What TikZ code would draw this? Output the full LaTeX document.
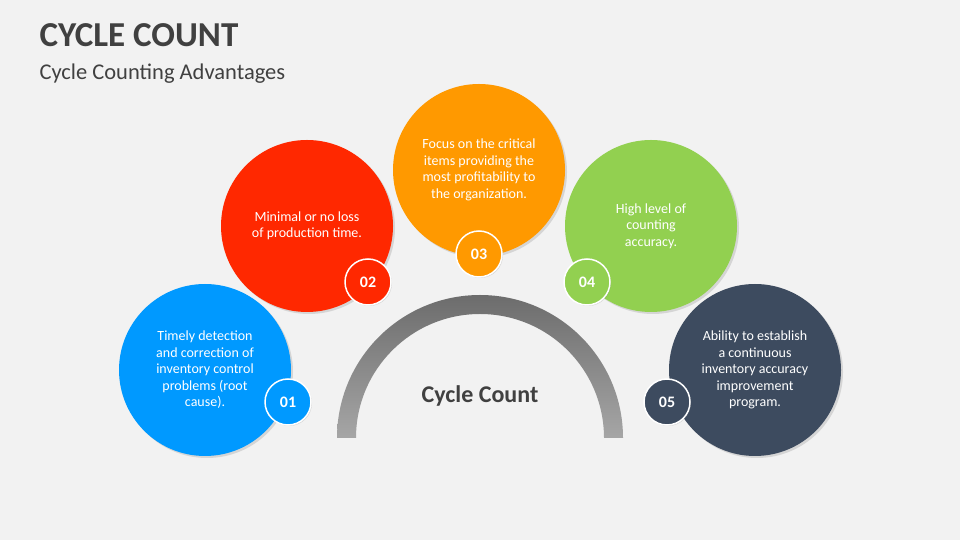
\documentclass[tikz,border=0pt]{standalone}
\usepackage{fontspec}
\setmainfont{Carlito}
\usetikzlibrary{shadows}
\definecolor{bg}{RGB}{242,242,242}
\definecolor{cblue}{RGB}{0,153,255}
\definecolor{cred}{RGB}{255,40,0}
\definecolor{corange}{RGB}{255,153,0}
\definecolor{cgreen}{RGB}{146,208,80}
\definecolor{cdark}{RGB}{61,75,95}
\definecolor{tgray}{RGB}{64,64,64}
\tikzset{
  bubble/.style={circle,minimum size=172pt,inner sep=0pt,fill=#1,text=white,align=center,font=\fontsize{14}{16.5}\selectfont,drop shadow={opacity=0.25,shadow xshift=2pt,shadow yshift=-2pt}},
  badge/.style={circle,minimum size=46pt,inner sep=0pt,fill=#1,draw=white,line width=1.5pt,text=white,font=\bfseries\fontsize{16}{18}\selectfont,drop shadow={opacity=0.25,shadow xshift=1pt,shadow yshift=-1pt}}
}
\begin{document}
\begin{tikzpicture}[x=1pt,y=1pt]
\fill[bg] (0,0) rectangle (960,540);
\useasboundingbox (0,0) rectangle (960,540);
\node[anchor=west,text=tgray,font=\bfseries\fontsize{35}{38}\selectfont] (title) at (36,505) {CYCLE COUNT};
\node[anchor=west,text=tgray,font=\fontsize{22.5}{26}\selectfont] (sub) at (36,466) {Cycle Counting Advantages};
% arch
\shade[top color=gray!85!black,bottom color=gray!70,draw=none]
  (337,102) arc[start angle=180,end angle=0,radius=143] -- (604,102)
  arc[start angle=0,end angle=180,radius=124] -- cycle;
\node[text=tgray,font=\bfseries\fontsize{24}{27}\selectfont] (cc) at (480,144) {Cycle Count};
% bubbles
\node[bubble=cblue] (b1) at (205,170) {Timely detection\\and correction of\\inventory control\\problems (root\\cause).};
\node[bubble=cred] (b2) at (307,314) {Minimal or no loss\\of production time.};
\node[bubble=corange] (b3) at (479,370) {Focus on the critical\\items providing the\\most profitability to\\the organization.};
\node[bubble=cgreen] (b4) at (651,314) {High level of\\counting\\accuracy.};
\node[bubble=cdark] (b5) at (755,170) {Ability to establish\\a continuous\\inventory accuracy\\improvement\\program.};
\node[badge=cblue] (n1) at (288,138) {01};
\node[badge=cred] (n2) at (368,258) {02};
\node[badge=corange] (n3) at (479,286) {03};
\node[badge=cgreen] (n4) at (587,258) {04};
\node[badge=cdark] (n5) at (667,138) {05};
\end{tikzpicture}
\end{document}
